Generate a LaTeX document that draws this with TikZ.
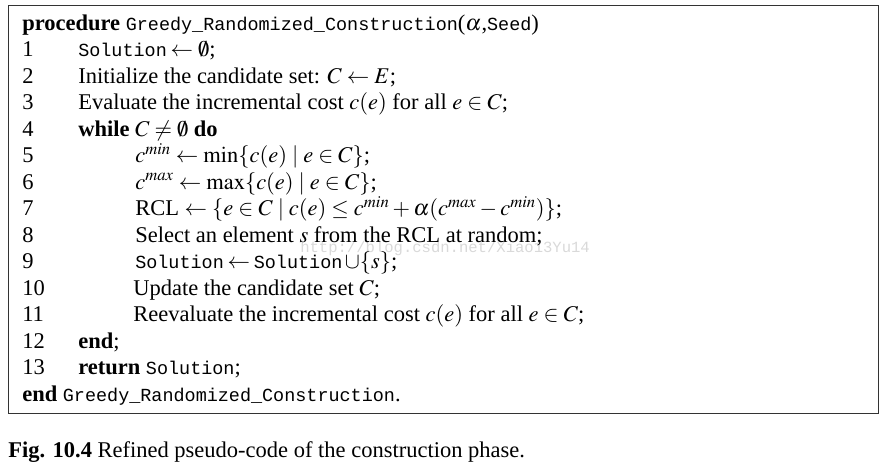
\documentclass[tikz,border=0pt]{standalone}
\usepackage{mathptmx}
\usepackage{fontspec}
\setmainfont{Liberation Serif}
\setmonofont{Liberation Mono}[Scale=0.82]
\usetikzlibrary{positioning}
\begin{document}
\begin{tikzpicture}[x=0.025cm,y=-0.025cm,font=\fontsize{16}{19}\selectfont]
    \tikzstyle{line} = [anchor=base west,inner sep=0pt]
    \tikzstyle{num} = [anchor=base west,inner sep=0pt]

    \useasboundingbox (0,0) rectangle (884,475);
    \node (box) [draw=black!80,thick,minimum width=870*0.025cm,minimum height=408*0.025cm,anchor=north west,inner sep=0pt] at (8,5) {};

    % watermark
    \node (wm) [line,text=black!15,font=\fontsize{13.5}{15}\selectfont] at (300,252) {\texttt{http://blog.csdn.net/Xiao13Yu14}};

    \node (head) [line] at (22,30) {\textbf{procedure} \texttt{Greedy\_Randomized\_Construction}($\alpha$,\texttt{Seed})};
    \foreach \i in {1,...,13} \node (n\i) [num] at (22,30+26.5*\i) {\i};

    \node (l1) [line] at (78,56.5) {\texttt{Solution}\,$\leftarrow\emptyset$;};
    \node (l2) [line] at (78,83) {Initialize the candidate set: $C\leftarrow E$;};
    \node (l3) [line] at (78,109.5) {Evaluate the incremental cost $c(e)$ for all $e\in C$;};
    \node (l4) [line] at (78,136) {\textbf{while} $C\neq\emptyset$ \textbf{do}};
    \node (l5) [line] at (135,162.5) {$c^{min}\leftarrow\min\{c(e)\mid e\in C\}$;};
    \node (l6) [line] at (135,189) {$c^{max}\leftarrow\max\{c(e)\mid e\in C\}$;};
    \node (l7) [line] at (135,215.5) {RCL $\leftarrow\{e\in C\mid c(e)\leq c^{min}+\alpha(c^{max}-c^{min})\}$;};
    \node (l8) [line] at (135,242) {Select an element $s$ from the RCL at random;};
    \node (l9) [line] at (135,268.5) {\texttt{Solution}\,$\leftarrow$\,\texttt{Solution}$\,\cup\{s\}$;};
    \node (l10) [line] at (133,295) {Update the candidate set $C$;};
    \node (l11) [line] at (133,321.5) {Reevaluate the incremental cost $c(e)$ for all $e\in C$;};
    \node (l12) [line] at (78,348) {\textbf{end};};
    \node (l13) [line] at (78,374.5) {\textbf{return} \texttt{Solution};};
    \node (foot) [line] at (22,401) {\textbf{end} \texttt{Greedy\_Randomized\_Construction}.};

    \node (cap) [line] at (8,457) {\textbf{Fig. 10.4} Refined pseudo-code of the construction phase.};
\end{tikzpicture}
\end{document}
